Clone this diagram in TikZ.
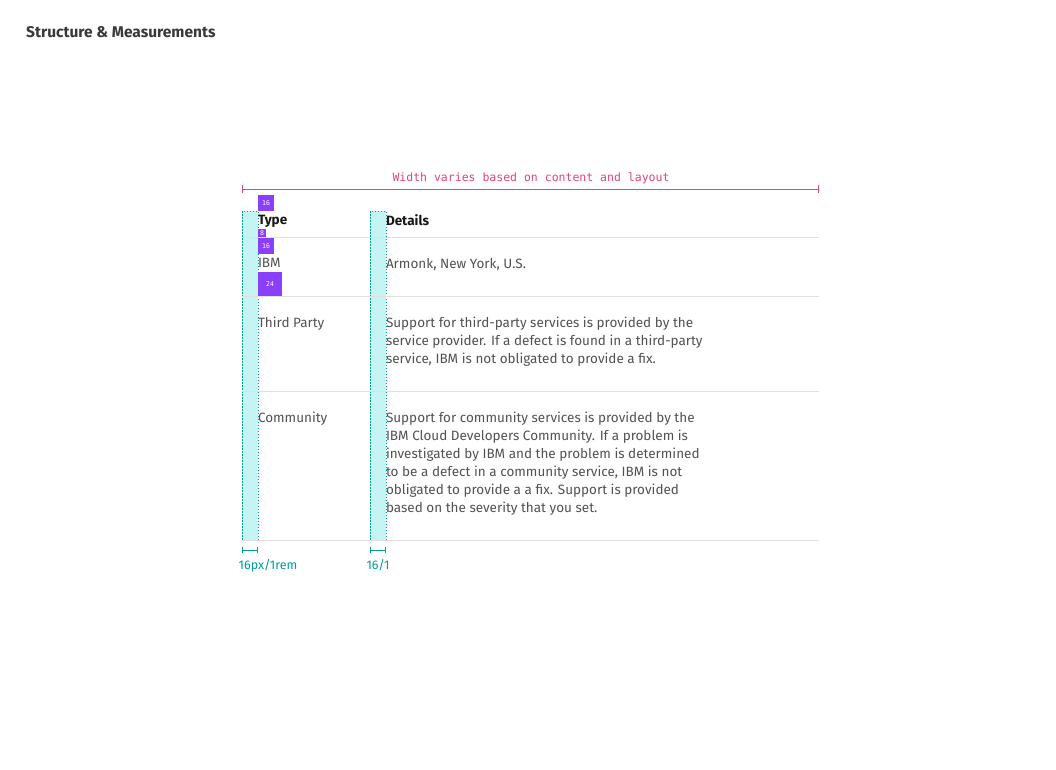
\documentclass[tikz,border=0pt]{standalone}
\usepackage{fontspec}
\setmainfont{Fira Sans}
\newfontfamily\monofont{DejaVu Sans Mono}
\usetikzlibrary{positioning,arrows.meta}
\definecolor{bodyGray}{HTML}{525252}
\definecolor{headBlack}{HTML}{161616}
\definecolor{ruleGray}{HTML}{E0E0E0}
\definecolor{padCyan}{HTML}{C4F5F2}
\definecolor{padTeal}{HTML}{009D9A}
\definecolor{specPink}{HTML}{E0457B}
\definecolor{specPurple}{HTML}{8A3FFC}
\tikzset{
  cell/.style={anchor=north west,inner sep=0pt,outer sep=0pt,text=bodyGray,font=\fontsize{13.5}{18}\selectfont,align=left},
  head/.style={cell,text=headBlack,font=\fontsize{13.5}{18}\selectfont\bfseries},
  spacer/.style={fill=specPurple,text=white,inner sep=0pt,font=\fontsize{6.5}{6.5}\selectfont\monofont},
  pad/.style={fill=padCyan,draw=padTeal,dash pattern=on 1.5pt off 1.5pt,line width=0.8pt},
  rowline/.style={draw=ruleGray,line width=1pt},
  measure/.style={draw=padTeal,line width=1pt,{Bar[width=6pt]}-{Bar[width=6pt]}}
}
\begin{document}
\begin{tikzpicture}[x=1pt,y=-1pt]
\path[use as bounding box,fill=white] (0,0) rectangle (1056,769);

\node[anchor=base west,inner sep=0pt,text=headBlack!85,font=\fontsize{15.5}{18}\selectfont\bfseries] (title) at (26,37) {Structure \& Measurements};

% padding columns
\path[pad] (242,211) rectangle (258,540);
\path[pad] (370,211) rectangle (386,540);

% row lines
\foreach \y in {237,296,391,540}
  \path[rowline] (242,\y) -- (819,\y);

% width annotation
\coordinate (wl) at (242,189);
\coordinate (wr) at (819,189);
\draw[draw=specPink,line width=1pt,{Bar[width=8pt]}-{Bar[width=8pt]}] (wl) -- (wr);
\node[inner sep=0pt,anchor=base,text=specPink,font=\fontsize{11.5}{12}\selectfont\monofont] (wlabel) at (531,181) {Width varies based on content and layout};

% spacers
\node[spacer,minimum width=16pt,minimum height=16pt] (sp1) at (266,203) {16};
\node[spacer,minimum width=8pt,minimum height=8pt] (sp2) at (262,233) {8};
\node[spacer,minimum width=16pt,minimum height=16pt] (sp3) at (266,246) {16};
\node[spacer,minimum width=24pt,minimum height=24pt] (sp4) at (270,284) {24};

% header
\node[head] (hType) at (258,215) {Type};
\node[head] (hDetails) at (386,215) {Details};

% rows
\node[cell] (tIBM) at (258,258) {IBM};
\node[cell] (dIBM) at (386,258) {Armonk, New York, U.S.};
\node[cell] (tThird) at (258,317) {Third Party};
\node[cell] (dThird) at (386,317) {Support for third-party services is provided by the\\service provider. If a defect is found in a third-party\\service, IBM is not obligated to provide a fix.};
\node[cell] (tComm) at (258,412) {Community};
\node[cell] (dComm) at (386,412) {Support for community services is provided by the\\IBM Cloud Developers Community. If a problem is\\investigated by IBM and the problem is determined\\to be a defect in a community service, IBM is not\\obligated to provide a a fix. Support is provided\\based on the severity that you set.};

% bottom measures
\coordinate (m1l) at (242,550);
\coordinate (m1r) at (258,550);
\coordinate (m2l) at (370,550);
\coordinate (m2r) at (386,550);
\draw[measure] (m1l) -- (m1r);
\draw[measure] (m2l) -- (m2r);
\node[inner sep=0pt,anchor=base,text=padTeal,font=\fontsize{12.5}{14}\selectfont] (m1label) at (268,569) {16px/1rem};
\node[inner sep=0pt,anchor=base,text=padTeal,font=\fontsize{12.5}{14}\selectfont] (m2label) at (378,569) {16/1};
\end{tikzpicture}
\end{document}
